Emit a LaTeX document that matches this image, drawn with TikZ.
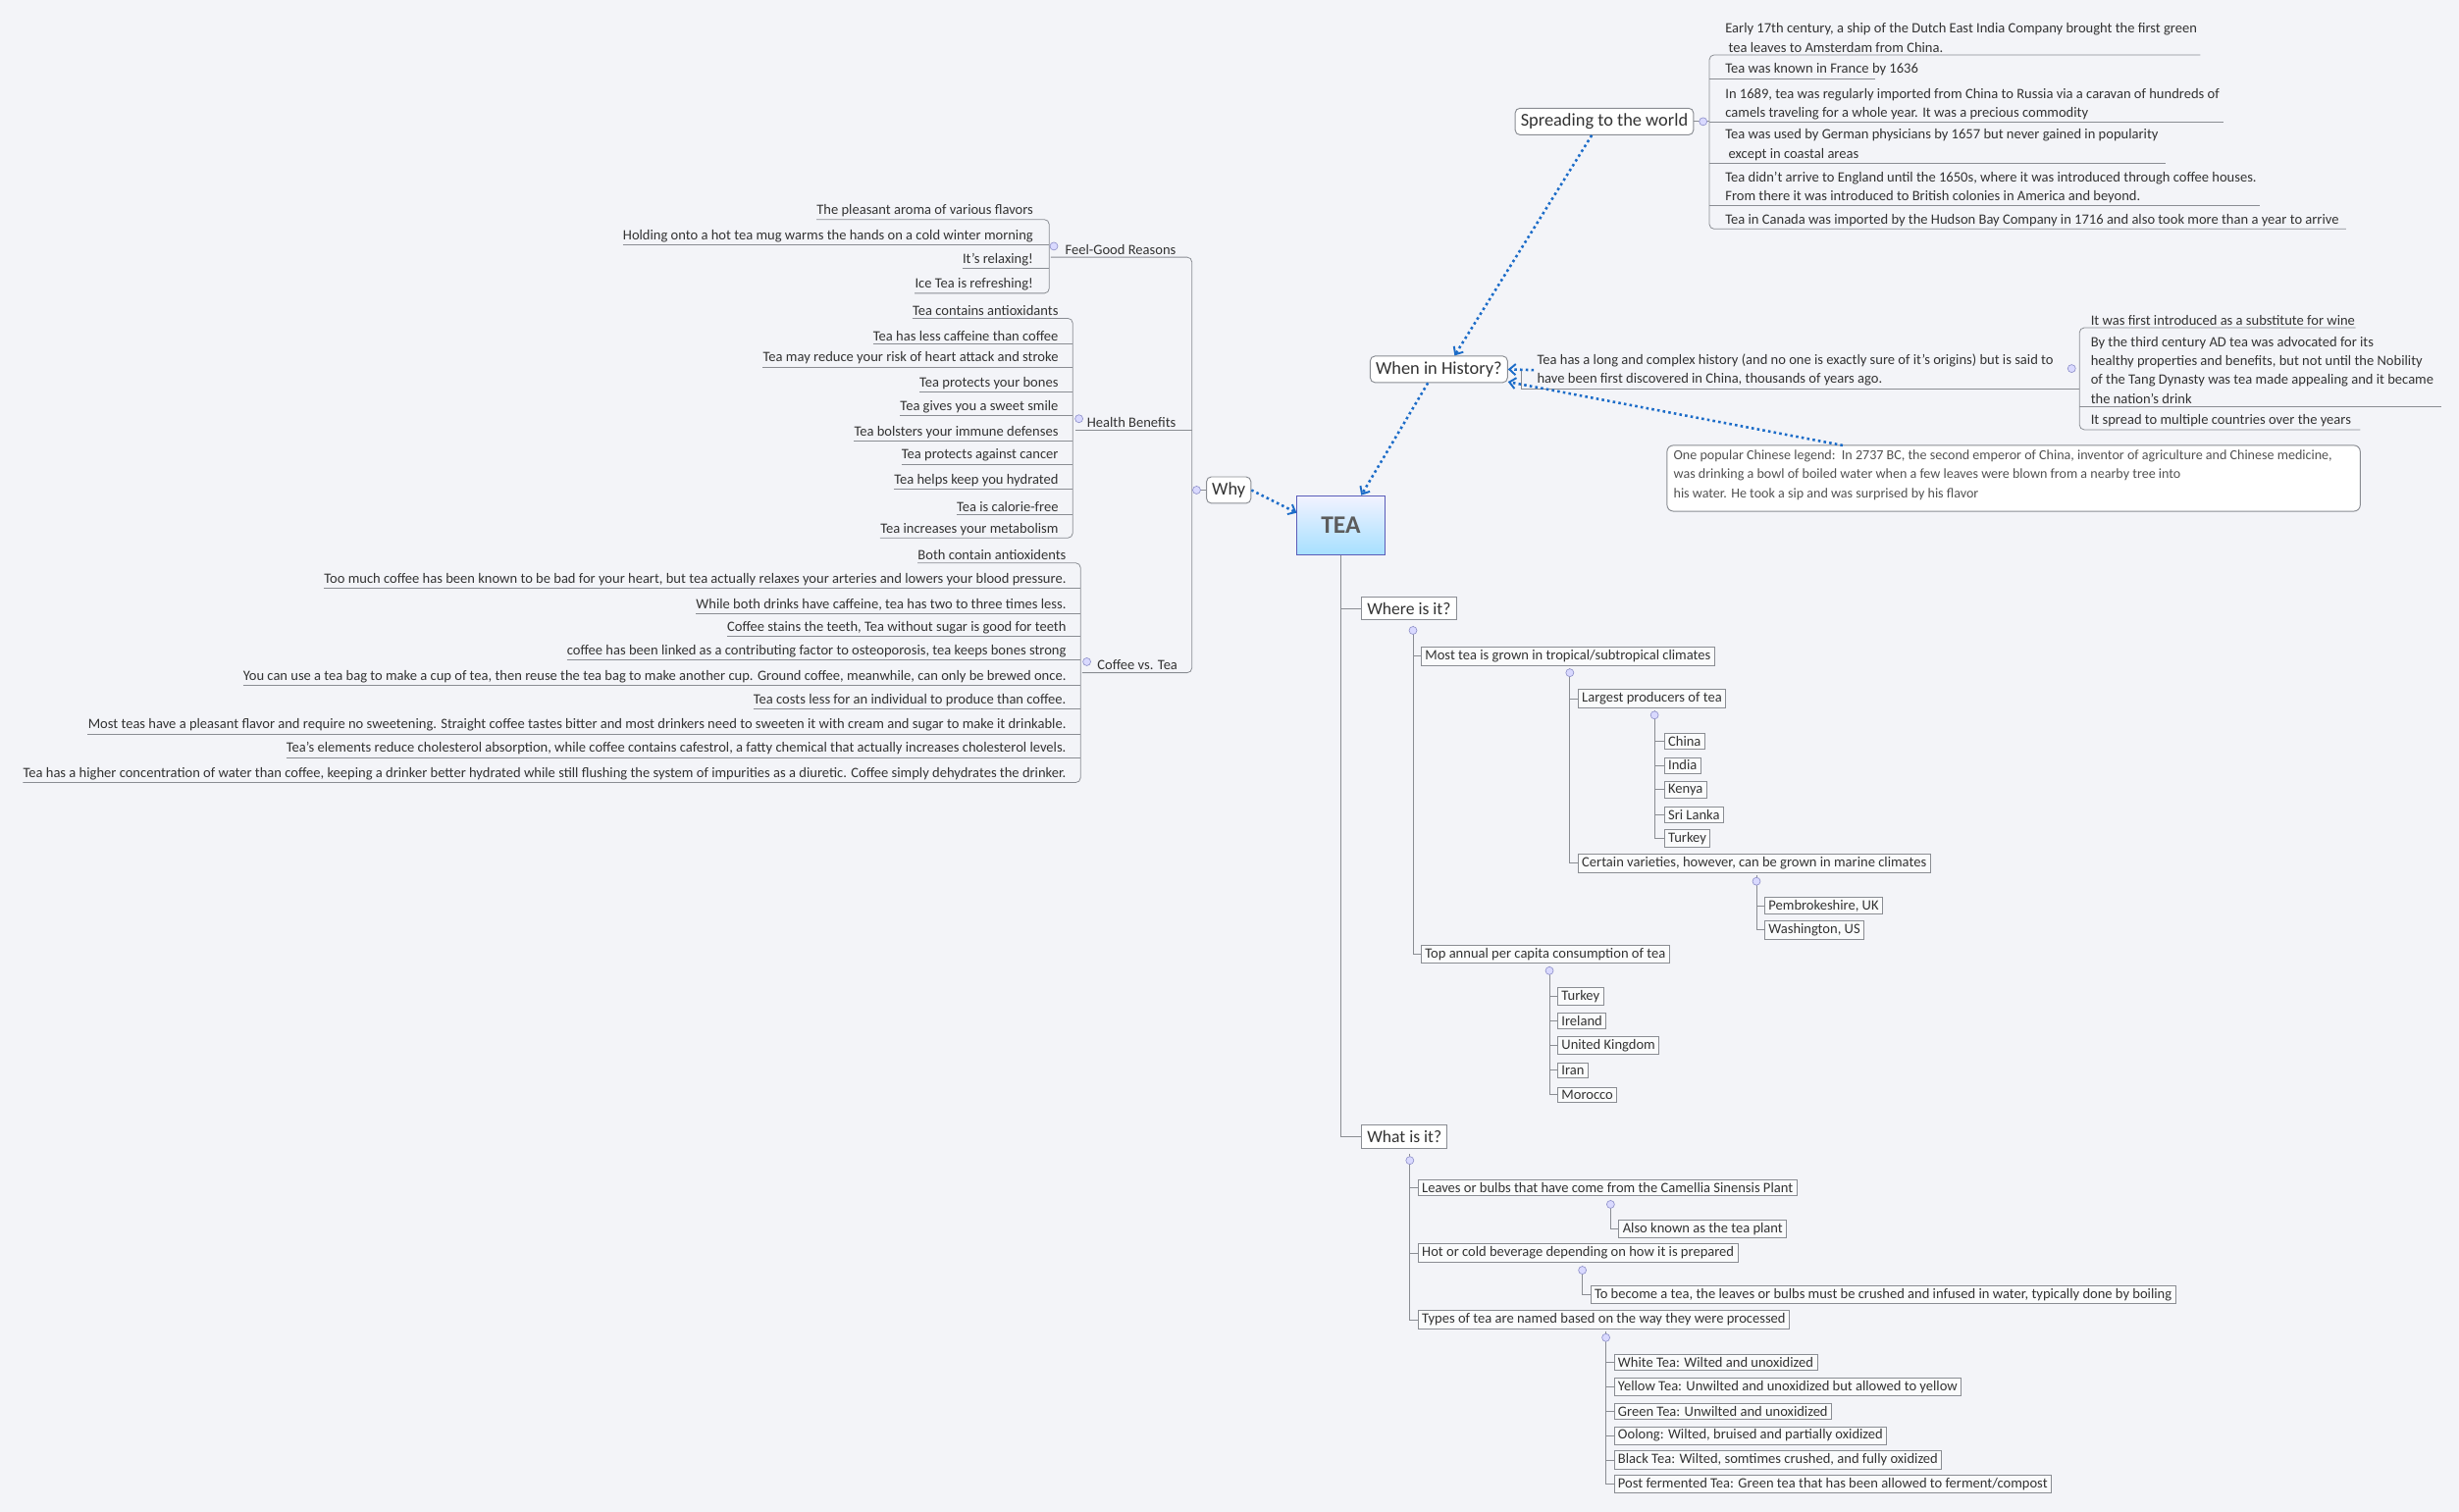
\documentclass[tikz,border=0pt]{standalone}
\usepackage{fontspec}
\setmainfont{Carlito}
\usetikzlibrary{arrows.meta}
\definecolor{bg}{HTML}{F3F4F8}
\definecolor{ln}{HTML}{8A8D93}
\definecolor{tx}{HTML}{333333}
\definecolor{ab}{HTML}{1C6CC8}
\tikzset{
 x={(1pt,0)}, y={(0,-1pt)},
 every node/.style={text=tx, font=\fontsize{9.1}{12}\selectfont},
 lft/.style={anchor=south east, inner xsep=0, inner ysep=1.5pt, align=right},
 rgt/.style={anchor=south west, inner xsep=0, inner ysep=1.5pt, align=left},
 sbox/.style={draw=ln, fill=white!60!bg, anchor=west, inner xsep=2.5pt, inner ysep=1.8pt, line width=0.5pt},
 bigbox/.style={draw=ln, fill=white, rounded corners=3pt, font=\fontsize{11.5}{13}\selectfont, inner sep=3.5pt, line width=0.6pt},
 sq/.style={draw=ln, fill=white, font=\fontsize{11}{13}\selectfont, inner sep=3.5pt, line width=0.6pt},
 ln/.style={draw=ln, line width=0.5pt},
 rel/.style={draw=ab, line width=1.6pt, dotted, -{Straight Barb[length=4pt,width=7pt,line width=1.2pt]}},
 dot/.style={circle, draw=blue!30!ln!70, fill=blue!15, inner sep=0, minimum size=5pt}
}
\begin{document}
\begin{tikzpicture}
\fill[bg] (0,0) rectangle (1568,964);
\useasboundingbox (0,0) rectangle (1568,964);

% central
\node[draw=blue!35!ln, top color=blue!5, bottom color=blue!35!cyan!35, minimum width=56, minimum height=38, font=\fontsize{16}{17}\bfseries\selectfont, text=tx!80] (tea) at (855,335) {TEA};
\node[bigbox] (why) at (783.5,312.5) {Why};
\node[bigbox] (when) at (917.5,235.5) {When in History?};
\node[bigbox] (spread) at (1023,77.5) {Spreading to the world};
\draw[rel] (why.east) -- (tea.north west|-0,327);
\draw[rel] ([xshift=-7pt]when.south) -- ([xshift=13pt]tea.north);
\draw[rel] ([xshift=-8pt]spread.south) -- ([xshift=10pt]when.north);

% history note
\node[rgt, anchor=south west] (note) at (980,247.5) {Tea has a long and complex history (and no one is exactly sure of it's origins) but is said to\\have been first discovered in China, thousands of years ago.};
\draw[ln] (970,236) -- (970,248) -- (1326,248);
\draw[rel] (978,236) -- (when.east);
\draw[draw=ln, fill=white, rounded corners=4pt, line width=0.6pt] (1063,284) rectangle (1505,326);
\node[anchor=north west, align=left, inner sep=0, text=tx!85, font=\fontsize{8.8}{12}\selectfont] (legend) at (1067,287) {One popular Chinese legend:\ \ In 2737 BC, the second emperor of China, inventor of agriculture and Chinese medicine,\\was drinking a bowl of boiled water when a few leaves were blown from a nearby tree into\\his water. He took a sip and was surprised by his flavor};
\draw[rel] (1175,284) -- ([yshift=-8pt]when.east);

% history children
\node[rgt] (h1) at (1333,209) {It was first introduced as a substitute for wine};
\node[rgt] (h2) at (1333,259) {By the third century AD tea was advocated for its\\healthy properties and benefits, but not until the Nobility\\of the Tang Dynasty was tea made appealing and it became\\the nation's drink};
\node[rgt] (h3) at (1333,274) {It spread to multiple countries over the years};
\draw[ln,rounded corners=3] (1502,209) -- (1326,209) -- (1326,274) -- (1505,274);
\draw[ln] (1326,259) -- (1557,259);
\node[dot] at (1321,235) {};

% spreading children
\node[rgt] (s1) at (1100,35) {Early 17th century, a ship of the Dutch East India Company brought the first green\\\ tea leaves to Amsterdam from China.};
\node[rgt] (s2) at (1100,50) {Tea was known in France by 1636};
\node[rgt] (s3) at (1100,78) {In 1689, tea was regularly imported from China to Russia via a caravan of hundreds of\\camels traveling for a whole year. It was a precious commodity};
\node[rgt] (s4) at (1100,104) {Tea was used by German physicians by 1657 but never gained in popularity\\\ except in coastal areas};
\node[rgt] (s5) at (1100,131) {Tea didn't arrive to England until the 1650s, where it was introduced through coffee houses.\\From there it was introduced to British colonies in America and beyond.};
\node[rgt] (s6) at (1100,146) {Tea in Canada was imported by the Hudson Bay Company in 1716 and also took more than a year to arrive};
\draw[ln,rounded corners=3] (1403,35) -- (1090,35) -- (1090,146) -- (1496,146);
\draw[ln] (1090,50) -- (1196,50);
\draw[ln] (1090,78) -- (1418,78);
\draw[ln] (1090,104) -- (1381,104);
\draw[ln] (1090,131) -- (1441,131);
\draw[ln] (spread.east) -- (1090,77.5);
\node[dot] at (1086,77.5) {};

% Why branches
\node[lft] (fg) at (750,164) {Feel-Good Reasons};
\node[lft] (hb) at (750,274) {Health Benefits};
\node[lft] (cv) at (751,429) {Coffee vs. Tea};
\draw[ln,rounded corners=3] (670,164) -- (760,164) -- (760,429) -- (690,429);
\draw[ln] (686,274) -- (760,274);
\draw[ln] (760,312.5) -- (why.west);
\node[dot] at (763,312.5) {};

% feel-good
\node[lft] (f1) at (659,140) {The pleasant aroma of various flavors};
\node[lft] (f2) at (659,156) {Holding onto a hot tea mug warms the hands on a cold winter morning};
\node[lft] (f3) at (659,171) {It's relaxing!};
\node[lft] (f4) at (659,187) {Ice Tea is refreshing!};
\draw[ln,rounded corners=3] (f1.south west) -- (669,140) -- (669,187) -- (f4.south west);
\draw[ln] (f2.south west) -- (669,156);
\draw[ln] (f3.south west) -- (669,171);
\node[dot] at (672,157) {};

% health
\foreach \n/\y/\t in {1/203/Tea contains antioxidants, 2/219/Tea has less caffeine than coffee, 3/234/Tea may reduce your risk of heart attack and stroke, 4/250/Tea protects your bones, 5/265/Tea gives you a sweet smile, 6/281/Tea bolsters your immune defenses, 7/296/Tea protects against cancer, 8/312/Tea helps keep you hydrated, 9/328/Tea is calorie-free, 10/343/Tea increases your metabolism}
  {\node[lft] (hb\n) at (675,\y) {\t};}
\draw[ln,rounded corners=3] (hb1.south west) -- (684,203) -- (684,343) -- (hb10.south west);
\foreach \n in {2,...,9} {\draw[ln] (hb\n.south west) -- (hb\n.south west -| 684,0);}
\node[dot] at (688,267) {};

% coffee vs tea
\foreach \n/\y/\t in {1/359/Both contain antioxidents, 2/375/Too much coffee has been known to be bad for your heart{,} but tea actually relaxes your arteries and lowers your blood pressure., 3/391/While both drinks have caffeine{,} tea has two to three times less., 4/406/Coffee stains the teeth{,} Tea without sugar is good for teeth, 5/421/coffee has been linked as a contributing factor to osteoporosis{,} tea keeps bones strong, 6/437/You can use a tea bag to make a cup of tea{,} then reuse the tea bag to make another cup. Ground coffee{,} meanwhile{,} can only be brewed once., 7/452/Tea costs less for an individual to produce than coffee., 8/468/Most teas have a pleasant flavor and require no sweetening. Straight coffee tastes bitter and most drinkers need to sweeten it with cream and sugar to make it drinkable., 9/483/Tea's elements reduce cholesterol absorption{,} while coffee contains cafestrol{,} a fatty chemical that actually increases cholesterol levels., 10/499/Tea has a higher concentration of water than coffee{,} keeping a drinker better hydrated while still flushing the system of impurities as a diuretic. Coffee simply dehydrates the drinker.}
  {\node[lft] (cv\n) at (680,\y) {\t};}
\draw[ln,rounded corners=3] (cv1.south west) -- (689,359) -- (689,499) -- (cv10.south west);
\foreach \n in {2,...,9} {\draw[ln] (cv\n.south west) -- (cv\n.south west -| 689,0);}
\node[dot] at (693,422) {};

% trunk
\node[sq, anchor=west] (where) at (868,388) {Where is it?};
\node[sq, anchor=west] (what) at (868,725) {What is it?};
\draw[ln] (tea.south) -- (855,725) -- (what.west);
\draw[ln] (855,388) -- (where.west);

% where
\node[sbox] (w1) at (906,418.5) {Most tea is grown in tropical/subtropical climates};
\node[sbox] (w2) at (906,608.5) {Top annual per capita consumption of tea};
\draw[ln] (901,399) -- (901,608.5) -- (w2.west);
\draw[ln] (901,418.5) -- (w1.west);
\node[dot] at (901,402) {};
\node[sbox] (l1) at (1006,445.5) {Largest producers of tea};
\node[sbox] (l2) at (1006,550.5) {Certain varieties, however, can be grown in marine climates};
\draw[ln] (1001,426) -- (1001,550.5) -- (l2.west);
\draw[ln] (1001,445.5) -- (l1.west);
\node[dot] at (1001,429) {};
\foreach \n/\y/\t in {1/472.5/China, 2/488/India, 3/503.5/Kenya, 4/519.5/Sri Lanka, 5/534.5/Turkey}
  {\node[sbox] (p\n) at (1061,\y) {\t}; \draw[ln] (1055,\y) -- (p\n.west);}
\draw[ln] (1055,453) -- (1055,534.5);
\node[dot] at (1055,456) {};
\foreach \n/\y/\t in {1/577.5/{Pembrokeshire, UK}, 2/593/{Washington, US}}
  {\node[sbox] (m\n) at (1125,\y) {\t}; \draw[ln] (1120,\y) -- (m\n.west);}
\draw[ln] (1120,558) -- (1120,593);
\node[dot] at (1120,562) {};
\foreach \n/\y/\t in {1/635.5/Turkey, 2/651/Ireland, 3/666.5/United Kingdom, 4/682.5/Iran, 5/698/Morocco}
  {\node[sbox] (c\n) at (993,\y) {\t}; \draw[ln] (988,\y) -- (c\n.west);}
\draw[ln] (988,616) -- (988,698);
\node[dot] at (988,619) {};

% what
\node[sbox] (t1) at (904,757.5) {Leaves or bulbs that have come from the Camellia Sinensis Plant};
\node[sbox] (t2) at (904,799) {Hot or cold beverage depending on how it is prepared};
\node[sbox] (t3) at (904,841.5) {Types of tea are named based on the way they were processed};
\draw[ln] (899,736) -- (899,841.5) -- (t3.west);
\draw[ln] (899,757.5) -- (t1.west);
\draw[ln] (899,799) -- (t2.west);
\node[dot] at (899,740) {};
\node[sbox] (a1) at (1032,783.5) {Also known as the tea plant};
\draw[ln] (1027,765) -- (1027,783.5) -- (a1.west);
\node[dot] at (1027,768) {};
\node[sbox] (b1) at (1014,825.5) {To become a tea, the leaves or bulbs must be crushed and infused in water, typically done by boiling};
\draw[ln] (1009,807) -- (1009,825.5) -- (b1.west);
\node[dot] at (1009,810) {};
\foreach \n/\y/\t in {1/869/White Tea: Wilted and unoxidized, 2/884.5/Yellow Tea: Unwilted and unoxidized but allowed to yellow, 3/900/Green Tea: Unwilted and unoxidized, 4/915.5/{Oolong: Wilted, bruised and partially oxidized}, 5/931/{Black Tea: Wilted, somtimes crushed, and fully oxidized}, 6/946.5/{Post fermented Tea: Green tea that has been allowed to ferment/compost}}
  {\node[sbox] (y\n) at (1029,\y) {\t}; \draw[ln] (1024,\y) -- (y\n.west);}
\draw[ln] (1024,849) -- (1024,946.5);
\node[dot] at (1024,853) {};
\end{tikzpicture}
\end{document}
